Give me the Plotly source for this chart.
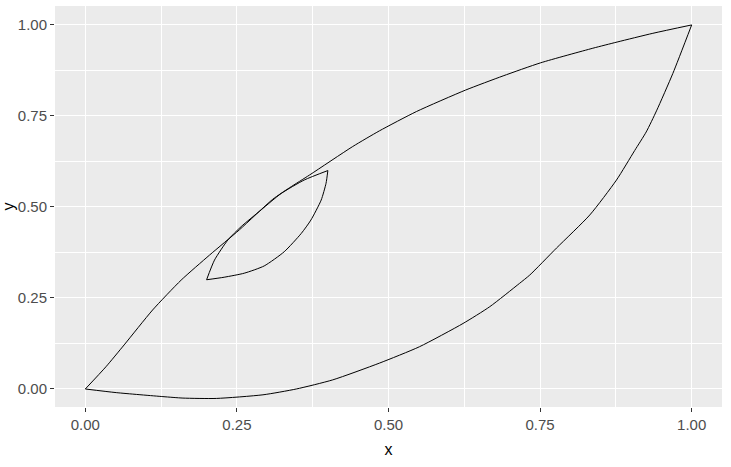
import plotly.graph_objects as go

# outer leaf: upper edge from (0,0) to (1,1), lower edge back from (1,1) to (0,0)
outer_upper_x = [0.0, 0.034, 0.064, 0.111, 0.158, 0.205, 0.254, 0.309, 0.337, 0.370,
                 0.441, 0.485, 0.546, 0.627, 0.689, 0.751, 0.837, 0.877, 0.936, 1.0]
outer_upper_y = [0.0, 0.061, 0.121, 0.217, 0.299, 0.368, 0.437, 0.521, 0.553, 0.588,
                 0.666, 0.709, 0.762, 0.821, 0.860, 0.896, 0.936, 0.953, 0.977, 1.0]
outer_lower_x = [1.0, 0.969, 0.942, 0.925, 0.906, 0.876, 0.832, 0.777, 0.733, 0.716, 0.667,
                 0.623, 0.551, 0.485, 0.408, 0.348, 0.293, 0.216, 0.161, 0.128, 0.051, 0.0]
outer_lower_y = [1.0, 0.867, 0.764, 0.706, 0.655, 0.574, 0.478, 0.387, 0.313, 0.290, 0.226,
                 0.180, 0.116, 0.071, 0.025, 0.0, -0.016, -0.026, -0.025, -0.021, -0.010, 0.0]

# inner leaf: from (0.2,0.3) up to (0.4,0.6) and back
inner_upper_x = [0.2, 0.213, 0.235, 0.257, 0.290, 0.323, 0.361, 0.4]
inner_upper_y = [0.3, 0.354, 0.409, 0.446, 0.492, 0.537, 0.574, 0.6]
inner_lower_x = [0.4, 0.397, 0.389, 0.372, 0.356, 0.328, 0.295, 0.262, 0.229, 0.2]
inner_lower_y = [0.6, 0.565, 0.519, 0.464, 0.427, 0.377, 0.338, 0.318, 0.307, 0.3]

tick_vals = [0.0, 0.25, 0.5, 0.75, 1.0]
tick_text = ["0.00", "0.25", "0.50", "0.75", "1.00"]

FONT = "Liberation Sans, Arial, sans-serif"

fig = go.Figure()
for xs, ys in [(outer_upper_x, outer_upper_y), (outer_lower_x, outer_lower_y),
               (inner_upper_x, inner_upper_y), (inner_lower_x, inner_lower_y)]:
    fig.add_trace(go.Scatter(x=xs, y=ys, mode="lines",
                             line=dict(color="black", width=1, shape="spline", smoothing=0.6)))

axis_style = dict(
    tickvals=tick_vals, ticktext=tick_text,
    showgrid=True, gridcolor="white", gridwidth=1.1,
    minor=dict(dtick=0.125, tick0=0, showgrid=True, gridcolor="white", gridwidth=0.5),
    zeroline=False, showline=False,
    ticks="outside", ticklen=4, tickwidth=1, tickcolor="#333333",
    tickfont=dict(family=FONT, size=15, color="#4D4D4D"),
)

fig.update_xaxes(range=[-0.05, 1.05],
                 title=dict(text="x", font=dict(family=FONT, size=16, color="black"), standoff=11),
                 **axis_style)
fig.update_yaxes(range=[-0.0495, 1.052],
                 title=dict(text="y", font=dict(family=FONT, size=16, color="black"), standoff=0),
                 **axis_style)

fig.update_layout(
    width=731, height=467,
    margin=dict(l=55, r=9, t=6, b=60, autoexpand=False),
    plot_bgcolor="#EBEBEB", paper_bgcolor="white",
    showlegend=False,
)

# the page's default 8px body margin would push the figure off its place
fig.write_html("out.html", config={"displayModeBar": False},
               post_script="document.body.style.margin='0';")
